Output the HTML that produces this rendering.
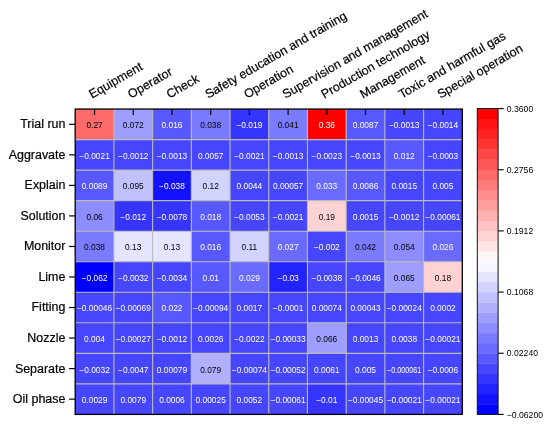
<!DOCTYPE html>
<html><head><meta charset="utf-8"><title>Heatmap</title>
<style>html,body{margin:0;padding:0;background:#fff}svg{display:block}</style></head>
<body>
<svg width="550" height="427" viewBox="0 0 550 427" font-family="'Liberation Sans', Arial, sans-serif">
<rect width="550" height="427" fill="#fff"/>
<rect x="75.20" y="109.05" width="39.01" height="30.83" fill="#ff6a6a"/>
<rect x="113.91" y="109.05" width="39.01" height="30.83" fill="#9e9eff"/>
<rect x="152.62" y="109.05" width="39.01" height="30.83" fill="#5858ff"/>
<rect x="191.33" y="109.05" width="39.01" height="30.83" fill="#7b7bff"/>
<rect x="230.04" y="109.05" width="39.01" height="30.83" fill="#3535ff"/>
<rect x="268.75" y="109.05" width="39.01" height="30.83" fill="#7b7bff"/>
<rect x="307.46" y="109.05" width="39.01" height="30.83" fill="#ff0000"/>
<rect x="346.17" y="109.05" width="39.01" height="30.83" fill="#5858ff"/>
<rect x="384.88" y="109.05" width="39.01" height="30.83" fill="#4646ff"/>
<rect x="423.59" y="109.05" width="39.01" height="30.83" fill="#4646ff"/>
<rect x="75.20" y="139.58" width="39.01" height="30.83" fill="#4646ff"/>
<rect x="113.91" y="139.58" width="39.01" height="30.83" fill="#4646ff"/>
<rect x="152.62" y="139.58" width="39.01" height="30.83" fill="#4646ff"/>
<rect x="191.33" y="139.58" width="39.01" height="30.83" fill="#4646ff"/>
<rect x="230.04" y="139.58" width="39.01" height="30.83" fill="#4646ff"/>
<rect x="268.75" y="139.58" width="39.01" height="30.83" fill="#4646ff"/>
<rect x="307.46" y="139.58" width="39.01" height="30.83" fill="#4646ff"/>
<rect x="346.17" y="139.58" width="39.01" height="30.83" fill="#4646ff"/>
<rect x="384.88" y="139.58" width="39.01" height="30.83" fill="#5858ff"/>
<rect x="423.59" y="139.58" width="39.01" height="30.83" fill="#4646ff"/>
<rect x="75.20" y="170.12" width="39.01" height="30.83" fill="#5858ff"/>
<rect x="113.91" y="170.12" width="39.01" height="30.83" fill="#c1c1ff"/>
<rect x="152.62" y="170.12" width="39.01" height="30.83" fill="#1212ff"/>
<rect x="191.33" y="170.12" width="39.01" height="30.83" fill="#d3d3ff"/>
<rect x="230.04" y="170.12" width="39.01" height="30.83" fill="#4646ff"/>
<rect x="268.75" y="170.12" width="39.01" height="30.83" fill="#4646ff"/>
<rect x="307.46" y="170.12" width="39.01" height="30.83" fill="#6a6aff"/>
<rect x="346.17" y="170.12" width="39.01" height="30.83" fill="#5858ff"/>
<rect x="384.88" y="170.12" width="39.01" height="30.83" fill="#4646ff"/>
<rect x="423.59" y="170.12" width="39.01" height="30.83" fill="#4646ff"/>
<rect x="75.20" y="200.65" width="39.01" height="30.83" fill="#8d8dff"/>
<rect x="113.91" y="200.65" width="39.01" height="30.83" fill="#3535ff"/>
<rect x="152.62" y="200.65" width="39.01" height="30.83" fill="#3535ff"/>
<rect x="191.33" y="200.65" width="39.01" height="30.83" fill="#5858ff"/>
<rect x="230.04" y="200.65" width="39.01" height="30.83" fill="#4646ff"/>
<rect x="268.75" y="200.65" width="39.01" height="30.83" fill="#4646ff"/>
<rect x="307.46" y="200.65" width="39.01" height="30.83" fill="#ffd3d3"/>
<rect x="346.17" y="200.65" width="39.01" height="30.83" fill="#4646ff"/>
<rect x="384.88" y="200.65" width="39.01" height="30.83" fill="#4646ff"/>
<rect x="423.59" y="200.65" width="39.01" height="30.83" fill="#4646ff"/>
<rect x="75.20" y="231.19" width="39.01" height="30.83" fill="#7b7bff"/>
<rect x="113.91" y="231.19" width="39.01" height="30.83" fill="#e5e5ff"/>
<rect x="152.62" y="231.19" width="39.01" height="30.83" fill="#e5e5ff"/>
<rect x="191.33" y="231.19" width="39.01" height="30.83" fill="#5858ff"/>
<rect x="230.04" y="231.19" width="39.01" height="30.83" fill="#d3d3ff"/>
<rect x="268.75" y="231.19" width="39.01" height="30.83" fill="#6a6aff"/>
<rect x="307.46" y="231.19" width="39.01" height="30.83" fill="#4646ff"/>
<rect x="346.17" y="231.19" width="39.01" height="30.83" fill="#7b7bff"/>
<rect x="384.88" y="231.19" width="39.01" height="30.83" fill="#8d8dff"/>
<rect x="423.59" y="231.19" width="39.01" height="30.83" fill="#6a6aff"/>
<rect x="75.20" y="261.72" width="39.01" height="30.83" fill="#0000ff"/>
<rect x="113.91" y="261.72" width="39.01" height="30.83" fill="#4646ff"/>
<rect x="152.62" y="261.72" width="39.01" height="30.83" fill="#4646ff"/>
<rect x="191.33" y="261.72" width="39.01" height="30.83" fill="#5858ff"/>
<rect x="230.04" y="261.72" width="39.01" height="30.83" fill="#6a6aff"/>
<rect x="268.75" y="261.72" width="39.01" height="30.83" fill="#2323ff"/>
<rect x="307.46" y="261.72" width="39.01" height="30.83" fill="#4646ff"/>
<rect x="346.17" y="261.72" width="39.01" height="30.83" fill="#4646ff"/>
<rect x="384.88" y="261.72" width="39.01" height="30.83" fill="#9e9eff"/>
<rect x="423.59" y="261.72" width="39.01" height="30.83" fill="#ffd3d3"/>
<rect x="75.20" y="292.26" width="39.01" height="30.83" fill="#4646ff"/>
<rect x="113.91" y="292.26" width="39.01" height="30.83" fill="#4646ff"/>
<rect x="152.62" y="292.26" width="39.01" height="30.83" fill="#5858ff"/>
<rect x="191.33" y="292.26" width="39.01" height="30.83" fill="#4646ff"/>
<rect x="230.04" y="292.26" width="39.01" height="30.83" fill="#4646ff"/>
<rect x="268.75" y="292.26" width="39.01" height="30.83" fill="#4646ff"/>
<rect x="307.46" y="292.26" width="39.01" height="30.83" fill="#4646ff"/>
<rect x="346.17" y="292.26" width="39.01" height="30.83" fill="#4646ff"/>
<rect x="384.88" y="292.26" width="39.01" height="30.83" fill="#4646ff"/>
<rect x="423.59" y="292.26" width="39.01" height="30.83" fill="#4646ff"/>
<rect x="75.20" y="322.79" width="39.01" height="30.83" fill="#4646ff"/>
<rect x="113.91" y="322.79" width="39.01" height="30.83" fill="#4646ff"/>
<rect x="152.62" y="322.79" width="39.01" height="30.83" fill="#4646ff"/>
<rect x="191.33" y="322.79" width="39.01" height="30.83" fill="#4646ff"/>
<rect x="230.04" y="322.79" width="39.01" height="30.83" fill="#4646ff"/>
<rect x="268.75" y="322.79" width="39.01" height="30.83" fill="#4646ff"/>
<rect x="307.46" y="322.79" width="39.01" height="30.83" fill="#9e9eff"/>
<rect x="346.17" y="322.79" width="39.01" height="30.83" fill="#4646ff"/>
<rect x="384.88" y="322.79" width="39.01" height="30.83" fill="#4646ff"/>
<rect x="423.59" y="322.79" width="39.01" height="30.83" fill="#4646ff"/>
<rect x="75.20" y="353.33" width="39.01" height="30.83" fill="#4646ff"/>
<rect x="113.91" y="353.33" width="39.01" height="30.83" fill="#4646ff"/>
<rect x="152.62" y="353.33" width="39.01" height="30.83" fill="#4646ff"/>
<rect x="191.33" y="353.33" width="39.01" height="30.83" fill="#b0b0ff"/>
<rect x="230.04" y="353.33" width="39.01" height="30.83" fill="#4646ff"/>
<rect x="268.75" y="353.33" width="39.01" height="30.83" fill="#4646ff"/>
<rect x="307.46" y="353.33" width="39.01" height="30.83" fill="#4646ff"/>
<rect x="346.17" y="353.33" width="39.01" height="30.83" fill="#4646ff"/>
<rect x="384.88" y="353.33" width="39.01" height="30.83" fill="#4646ff"/>
<rect x="423.59" y="353.33" width="39.01" height="30.83" fill="#4646ff"/>
<rect x="75.20" y="383.86" width="39.01" height="30.83" fill="#4646ff"/>
<rect x="113.91" y="383.86" width="39.01" height="30.83" fill="#4646ff"/>
<rect x="152.62" y="383.86" width="39.01" height="30.83" fill="#4646ff"/>
<rect x="191.33" y="383.86" width="39.01" height="30.83" fill="#4646ff"/>
<rect x="230.04" y="383.86" width="39.01" height="30.83" fill="#4646ff"/>
<rect x="268.75" y="383.86" width="39.01" height="30.83" fill="#4646ff"/>
<rect x="307.46" y="383.86" width="39.01" height="30.83" fill="#3535ff"/>
<rect x="346.17" y="383.86" width="39.01" height="30.83" fill="#4646ff"/>
<rect x="384.88" y="383.86" width="39.01" height="30.83" fill="#4646ff"/>
<rect x="423.59" y="383.86" width="39.01" height="30.83" fill="#4646ff"/>
<text x="94.56" y="128.22" font-size="8.4" fill="#000" text-anchor="middle">0.27</text>
<text x="133.26" y="128.22" font-size="8.4" fill="#000" text-anchor="middle">0.072</text>
<text x="171.98" y="128.22" font-size="8.4" fill="#fff" text-anchor="middle">0.016</text>
<text x="210.69" y="128.22" font-size="8.4" fill="#000" text-anchor="middle">0.038</text>
<text x="249.39" y="128.22" font-size="8.4" fill="#fff" text-anchor="middle">−0.019</text>
<text x="288.11" y="128.22" font-size="8.4" fill="#000" text-anchor="middle">0.041</text>
<text x="326.81" y="128.22" font-size="8.4" fill="#fff" text-anchor="middle">0.36</text>
<text x="365.52" y="128.22" font-size="8.4" fill="#fff" text-anchor="middle">0.0087</text>
<text x="404.24" y="128.22" font-size="8.4" fill="#fff" text-anchor="middle">−0.0013</text>
<text x="442.94" y="128.22" font-size="8.4" fill="#fff" text-anchor="middle">−0.0014</text>
<text x="94.56" y="158.75" font-size="8.4" fill="#fff" text-anchor="middle">−0.0021</text>
<text x="133.26" y="158.75" font-size="8.4" fill="#fff" text-anchor="middle">−0.0012</text>
<text x="171.98" y="158.75" font-size="8.4" fill="#fff" text-anchor="middle">−0.0013</text>
<text x="210.69" y="158.75" font-size="8.4" fill="#fff" text-anchor="middle">0.0057</text>
<text x="249.39" y="158.75" font-size="8.4" fill="#fff" text-anchor="middle">−0.0021</text>
<text x="288.11" y="158.75" font-size="8.4" fill="#fff" text-anchor="middle">−0.0013</text>
<text x="326.81" y="158.75" font-size="8.4" fill="#fff" text-anchor="middle">−0.0023</text>
<text x="365.52" y="158.75" font-size="8.4" fill="#fff" text-anchor="middle">−0.0013</text>
<text x="404.24" y="158.75" font-size="8.4" fill="#fff" text-anchor="middle">0.012</text>
<text x="442.94" y="158.75" font-size="8.4" fill="#fff" text-anchor="middle">−0.0003</text>
<text x="94.56" y="189.29" font-size="8.4" fill="#fff" text-anchor="middle">0.0089</text>
<text x="133.26" y="189.29" font-size="8.4" fill="#000" text-anchor="middle">0.095</text>
<text x="171.98" y="189.29" font-size="8.4" fill="#fff" text-anchor="middle">−0.038</text>
<text x="210.69" y="189.29" font-size="8.4" fill="#000" text-anchor="middle">0.12</text>
<text x="249.39" y="189.29" font-size="8.4" fill="#fff" text-anchor="middle">0.0044</text>
<text x="288.11" y="189.29" font-size="8.4" fill="#fff" text-anchor="middle">0.00057</text>
<text x="326.81" y="189.29" font-size="8.4" fill="#fff" text-anchor="middle">0.033</text>
<text x="365.52" y="189.29" font-size="8.4" fill="#fff" text-anchor="middle">0.0086</text>
<text x="404.24" y="189.29" font-size="8.4" fill="#fff" text-anchor="middle">0.0015</text>
<text x="442.94" y="189.29" font-size="8.4" fill="#fff" text-anchor="middle">0.005</text>
<text x="94.56" y="219.82" font-size="8.4" fill="#000" text-anchor="middle">0.06</text>
<text x="133.26" y="219.82" font-size="8.4" fill="#fff" text-anchor="middle">−0.012</text>
<text x="171.98" y="219.82" font-size="8.4" fill="#fff" text-anchor="middle">−0.0078</text>
<text x="210.69" y="219.82" font-size="8.4" fill="#fff" text-anchor="middle">0.018</text>
<text x="249.39" y="219.82" font-size="8.4" fill="#fff" text-anchor="middle">−0.0053</text>
<text x="288.11" y="219.82" font-size="8.4" fill="#fff" text-anchor="middle">−0.0021</text>
<text x="326.81" y="219.82" font-size="8.4" fill="#000" text-anchor="middle">0.19</text>
<text x="365.52" y="219.82" font-size="8.4" fill="#fff" text-anchor="middle">0.0015</text>
<text x="404.24" y="219.82" font-size="8.4" fill="#fff" text-anchor="middle">−0.0012</text>
<text x="442.94" y="219.82" font-size="8.4" fill="#fff" text-anchor="middle">−0.00061</text>
<text x="94.56" y="250.36" font-size="8.4" fill="#000" text-anchor="middle">0.038</text>
<text x="133.26" y="250.36" font-size="8.4" fill="#000" text-anchor="middle">0.13</text>
<text x="171.98" y="250.36" font-size="8.4" fill="#000" text-anchor="middle">0.13</text>
<text x="210.69" y="250.36" font-size="8.4" fill="#fff" text-anchor="middle">0.016</text>
<text x="249.39" y="250.36" font-size="8.4" fill="#000" text-anchor="middle">0.11</text>
<text x="288.11" y="250.36" font-size="8.4" fill="#fff" text-anchor="middle">0.027</text>
<text x="326.81" y="250.36" font-size="8.4" fill="#fff" text-anchor="middle">−0.002</text>
<text x="365.52" y="250.36" font-size="8.4" fill="#000" text-anchor="middle">0.042</text>
<text x="404.24" y="250.36" font-size="8.4" fill="#000" text-anchor="middle">0.054</text>
<text x="442.94" y="250.36" font-size="8.4" fill="#fff" text-anchor="middle">0.026</text>
<text x="94.56" y="280.89" font-size="8.4" fill="#fff" text-anchor="middle">−0.062</text>
<text x="133.26" y="280.89" font-size="8.4" fill="#fff" text-anchor="middle">−0.0032</text>
<text x="171.98" y="280.89" font-size="8.4" fill="#fff" text-anchor="middle">−0.0034</text>
<text x="210.69" y="280.89" font-size="8.4" fill="#fff" text-anchor="middle">0.01</text>
<text x="249.39" y="280.89" font-size="8.4" fill="#fff" text-anchor="middle">0.029</text>
<text x="288.11" y="280.89" font-size="8.4" fill="#fff" text-anchor="middle">−0.03</text>
<text x="326.81" y="280.89" font-size="8.4" fill="#fff" text-anchor="middle">−0.0038</text>
<text x="365.52" y="280.89" font-size="8.4" fill="#fff" text-anchor="middle">−0.0046</text>
<text x="404.24" y="280.89" font-size="8.4" fill="#000" text-anchor="middle">0.065</text>
<text x="442.94" y="280.89" font-size="8.4" fill="#000" text-anchor="middle">0.18</text>
<text x="94.56" y="311.43" font-size="8.4" fill="#fff" text-anchor="middle">−0.00046</text>
<text x="133.26" y="311.43" font-size="8.4" fill="#fff" text-anchor="middle">−0.00069</text>
<text x="171.98" y="311.43" font-size="8.4" fill="#fff" text-anchor="middle">0.022</text>
<text x="210.69" y="311.43" font-size="8.4" fill="#fff" text-anchor="middle">−0.00094</text>
<text x="249.39" y="311.43" font-size="8.4" fill="#fff" text-anchor="middle">0.0017</text>
<text x="288.11" y="311.43" font-size="8.4" fill="#fff" text-anchor="middle">−0.0001</text>
<text x="326.81" y="311.43" font-size="8.4" fill="#fff" text-anchor="middle">0.00074</text>
<text x="365.52" y="311.43" font-size="8.4" fill="#fff" text-anchor="middle">0.00043</text>
<text x="404.24" y="311.43" font-size="8.4" fill="#fff" text-anchor="middle">−0.00024</text>
<text x="442.94" y="311.43" font-size="8.4" fill="#fff" text-anchor="middle">0.0002</text>
<text x="94.56" y="341.96" font-size="8.4" fill="#fff" text-anchor="middle">0.004</text>
<text x="133.26" y="341.96" font-size="8.4" fill="#fff" text-anchor="middle">−0.00027</text>
<text x="171.98" y="341.96" font-size="8.4" fill="#fff" text-anchor="middle">−0.0012</text>
<text x="210.69" y="341.96" font-size="8.4" fill="#fff" text-anchor="middle">0.0026</text>
<text x="249.39" y="341.96" font-size="8.4" fill="#fff" text-anchor="middle">−0.0022</text>
<text x="288.11" y="341.96" font-size="8.4" fill="#fff" text-anchor="middle">−0.00033</text>
<text x="326.81" y="341.96" font-size="8.4" fill="#000" text-anchor="middle">0.066</text>
<text x="365.52" y="341.96" font-size="8.4" fill="#fff" text-anchor="middle">0.0013</text>
<text x="404.24" y="341.96" font-size="8.4" fill="#fff" text-anchor="middle">0.0038</text>
<text x="442.94" y="341.96" font-size="8.4" fill="#fff" text-anchor="middle">−0.00021</text>
<text x="94.56" y="372.50" font-size="8.4" fill="#fff" text-anchor="middle">−0.0032</text>
<text x="133.26" y="372.50" font-size="8.4" fill="#fff" text-anchor="middle">−0.0047</text>
<text x="171.98" y="372.50" font-size="8.4" fill="#fff" text-anchor="middle">0.00079</text>
<text x="210.69" y="372.50" font-size="8.4" fill="#000" text-anchor="middle">0.079</text>
<text x="249.39" y="372.50" font-size="8.4" fill="#fff" text-anchor="middle">−0.00074</text>
<text x="288.11" y="372.50" font-size="8.4" fill="#fff" text-anchor="middle">−0.00052</text>
<text x="326.81" y="372.50" font-size="8.4" fill="#fff" text-anchor="middle">0.0061</text>
<text x="365.52" y="372.50" font-size="8.4" fill="#fff" text-anchor="middle">0.005</text>
<text x="404.24" y="372.50" font-size="8.4" fill="#fff" text-anchor="middle" textLength="34.3" lengthAdjust="spacingAndGlyphs">−0.000061</text>
<text x="442.94" y="372.50" font-size="8.4" fill="#fff" text-anchor="middle">−0.0006</text>
<text x="94.56" y="403.03" font-size="8.4" fill="#fff" text-anchor="middle">0.0029</text>
<text x="133.26" y="403.03" font-size="8.4" fill="#fff" text-anchor="middle">0.0079</text>
<text x="171.98" y="403.03" font-size="8.4" fill="#fff" text-anchor="middle">0.0006</text>
<text x="210.69" y="403.03" font-size="8.4" fill="#fff" text-anchor="middle">0.00025</text>
<text x="249.39" y="403.03" font-size="8.4" fill="#fff" text-anchor="middle">0.0052</text>
<text x="288.11" y="403.03" font-size="8.4" fill="#fff" text-anchor="middle">−0.00061</text>
<text x="326.81" y="403.03" font-size="8.4" fill="#fff" text-anchor="middle">−0.01</text>
<text x="365.52" y="403.03" font-size="8.4" fill="#fff" text-anchor="middle">−0.00045</text>
<text x="404.24" y="403.03" font-size="8.4" fill="#fff" text-anchor="middle">−0.00021</text>
<text x="442.94" y="403.03" font-size="8.4" fill="#fff" text-anchor="middle">−0.00021</text>
<line x1="113.91" y1="109.05" x2="113.91" y2="414.4" stroke="#bbbbbb" stroke-width="1.1"/>
<line x1="75.2" y1="139.58" x2="462.3" y2="139.58" stroke="#bbbbbb" stroke-width="1.1"/>
<line x1="152.62" y1="109.05" x2="152.62" y2="414.4" stroke="#bbbbbb" stroke-width="1.1"/>
<line x1="75.2" y1="170.12" x2="462.3" y2="170.12" stroke="#bbbbbb" stroke-width="1.1"/>
<line x1="191.33" y1="109.05" x2="191.33" y2="414.4" stroke="#bbbbbb" stroke-width="1.1"/>
<line x1="75.2" y1="200.65" x2="462.3" y2="200.65" stroke="#bbbbbb" stroke-width="1.1"/>
<line x1="230.04" y1="109.05" x2="230.04" y2="414.4" stroke="#bbbbbb" stroke-width="1.1"/>
<line x1="75.2" y1="231.19" x2="462.3" y2="231.19" stroke="#bbbbbb" stroke-width="1.1"/>
<line x1="268.75" y1="109.05" x2="268.75" y2="414.4" stroke="#bbbbbb" stroke-width="1.1"/>
<line x1="75.2" y1="261.72" x2="462.3" y2="261.72" stroke="#bbbbbb" stroke-width="1.1"/>
<line x1="307.46" y1="109.05" x2="307.46" y2="414.4" stroke="#bbbbbb" stroke-width="1.1"/>
<line x1="75.2" y1="292.26" x2="462.3" y2="292.26" stroke="#bbbbbb" stroke-width="1.1"/>
<line x1="346.17" y1="109.05" x2="346.17" y2="414.4" stroke="#bbbbbb" stroke-width="1.1"/>
<line x1="75.2" y1="322.79" x2="462.3" y2="322.79" stroke="#bbbbbb" stroke-width="1.1"/>
<line x1="384.88" y1="109.05" x2="384.88" y2="414.4" stroke="#bbbbbb" stroke-width="1.1"/>
<line x1="75.2" y1="353.33" x2="462.3" y2="353.33" stroke="#bbbbbb" stroke-width="1.1"/>
<line x1="423.59" y1="109.05" x2="423.59" y2="414.4" stroke="#bbbbbb" stroke-width="1.1"/>
<line x1="75.2" y1="383.86" x2="462.3" y2="383.86" stroke="#bbbbbb" stroke-width="1.1"/>
<rect x="75.2" y="109.05" width="387.10" height="305.35" fill="none" stroke="#000" stroke-width="1.3"/>
<line x1="94.56" y1="109.05" x2="94.56" y2="114.95" stroke="#000" stroke-width="1.2"/>
<text transform="translate(92.06,98.8) rotate(-30)" font-size="12.45" fill="#000" stroke="#000" stroke-width="0.2">Equipment</text>
<line x1="133.26" y1="109.05" x2="133.26" y2="114.95" stroke="#000" stroke-width="1.2"/>
<text transform="translate(130.76,98.8) rotate(-30)" font-size="12.45" fill="#000" stroke="#000" stroke-width="0.2">Operator</text>
<line x1="171.98" y1="109.05" x2="171.98" y2="114.95" stroke="#000" stroke-width="1.2"/>
<text transform="translate(169.48,98.8) rotate(-30)" font-size="12.45" fill="#000" stroke="#000" stroke-width="0.2">Check</text>
<line x1="210.69" y1="109.05" x2="210.69" y2="114.95" stroke="#000" stroke-width="1.2"/>
<text transform="translate(208.19,98.8) rotate(-30)" font-size="12.45" fill="#000" stroke="#000" stroke-width="0.2">Safety education and training</text>
<line x1="249.39" y1="109.05" x2="249.39" y2="114.95" stroke="#000" stroke-width="1.2"/>
<text transform="translate(246.89,98.8) rotate(-30)" font-size="12.45" fill="#000" stroke="#000" stroke-width="0.2">Operation</text>
<line x1="288.11" y1="109.05" x2="288.11" y2="114.95" stroke="#000" stroke-width="1.2"/>
<text transform="translate(285.61,98.8) rotate(-30)" font-size="12.45" fill="#000" stroke="#000" stroke-width="0.2">Supervision and management</text>
<line x1="326.81" y1="109.05" x2="326.81" y2="114.95" stroke="#000" stroke-width="1.2"/>
<text transform="translate(324.31,98.8) rotate(-30)" font-size="12.45" fill="#000" stroke="#000" stroke-width="0.2">Production technology</text>
<line x1="365.52" y1="109.05" x2="365.52" y2="114.95" stroke="#000" stroke-width="1.2"/>
<text transform="translate(363.02,98.8) rotate(-30)" font-size="12.45" fill="#000" stroke="#000" stroke-width="0.2">Management</text>
<line x1="404.24" y1="109.05" x2="404.24" y2="114.95" stroke="#000" stroke-width="1.2"/>
<text transform="translate(401.74,98.8) rotate(-30)" font-size="12.45" fill="#000" stroke="#000" stroke-width="0.2">Toxic and harmful gas</text>
<line x1="442.94" y1="109.05" x2="442.94" y2="114.95" stroke="#000" stroke-width="1.2"/>
<text transform="translate(440.44,98.8) rotate(-30)" font-size="12.45" fill="#000" stroke="#000" stroke-width="0.2">Special operation</text>
<line x1="69.10" y1="124.32" x2="75.2" y2="124.32" stroke="#000" stroke-width="1.2"/>
<text x="65.4" y="128.27" font-size="12.45" fill="#000" stroke="#000" stroke-width="0.2" text-anchor="end">Trial run</text>
<line x1="69.10" y1="154.85" x2="75.2" y2="154.85" stroke="#000" stroke-width="1.2"/>
<text x="65.4" y="158.80" font-size="12.45" fill="#000" stroke="#000" stroke-width="0.2" text-anchor="end">Aggravate</text>
<line x1="69.10" y1="185.39" x2="75.2" y2="185.39" stroke="#000" stroke-width="1.2"/>
<text x="65.4" y="189.34" font-size="12.45" fill="#000" stroke="#000" stroke-width="0.2" text-anchor="end">Explain</text>
<line x1="69.10" y1="215.92" x2="75.2" y2="215.92" stroke="#000" stroke-width="1.2"/>
<text x="65.4" y="219.87" font-size="12.45" fill="#000" stroke="#000" stroke-width="0.2" text-anchor="end">Solution</text>
<line x1="69.10" y1="246.46" x2="75.2" y2="246.46" stroke="#000" stroke-width="1.2"/>
<text x="65.4" y="250.41" font-size="12.45" fill="#000" stroke="#000" stroke-width="0.2" text-anchor="end">Monitor</text>
<line x1="69.10" y1="276.99" x2="75.2" y2="276.99" stroke="#000" stroke-width="1.2"/>
<text x="65.4" y="280.94" font-size="12.45" fill="#000" stroke="#000" stroke-width="0.2" text-anchor="end">Lime</text>
<line x1="69.10" y1="307.53" x2="75.2" y2="307.53" stroke="#000" stroke-width="1.2"/>
<text x="65.4" y="311.48" font-size="12.45" fill="#000" stroke="#000" stroke-width="0.2" text-anchor="end">Fitting</text>
<line x1="69.10" y1="338.06" x2="75.2" y2="338.06" stroke="#000" stroke-width="1.2"/>
<text x="65.4" y="342.01" font-size="12.45" fill="#000" stroke="#000" stroke-width="0.2" text-anchor="end">Nozzle</text>
<line x1="69.10" y1="368.60" x2="75.2" y2="368.60" stroke="#000" stroke-width="1.2"/>
<text x="65.4" y="372.55" font-size="12.45" fill="#000" stroke="#000" stroke-width="0.2" text-anchor="end">Separate</text>
<line x1="69.10" y1="399.13" x2="75.2" y2="399.13" stroke="#000" stroke-width="1.2"/>
<text x="65.4" y="403.08" font-size="12.45" fill="#000" stroke="#000" stroke-width="0.2" text-anchor="end">Oil phase</text>
<rect x="477.3" y="404.21" width="20.80" height="10.49" fill="#0000ff"/>
<rect x="477.3" y="394.01" width="20.80" height="10.49" fill="#1212ff"/>
<rect x="477.3" y="383.82" width="20.80" height="10.49" fill="#2323ff"/>
<rect x="477.3" y="373.63" width="20.80" height="10.49" fill="#3535ff"/>
<rect x="477.3" y="363.43" width="20.80" height="10.49" fill="#4646ff"/>
<rect x="477.3" y="353.24" width="20.80" height="10.49" fill="#5858ff"/>
<rect x="477.3" y="343.05" width="20.80" height="10.49" fill="#6a6aff"/>
<rect x="477.3" y="332.85" width="20.80" height="10.49" fill="#7b7bff"/>
<rect x="477.3" y="322.66" width="20.80" height="10.49" fill="#8d8dff"/>
<rect x="477.3" y="312.47" width="20.80" height="10.49" fill="#9e9eff"/>
<rect x="477.3" y="302.27" width="20.80" height="10.49" fill="#b0b0ff"/>
<rect x="477.3" y="292.08" width="20.80" height="10.49" fill="#c1c1ff"/>
<rect x="477.3" y="281.89" width="20.80" height="10.49" fill="#d3d3ff"/>
<rect x="477.3" y="271.69" width="20.80" height="10.49" fill="#e5e5ff"/>
<rect x="477.3" y="261.50" width="20.80" height="10.49" fill="#f6f6ff"/>
<rect x="477.3" y="251.31" width="20.80" height="10.49" fill="#fff6f6"/>
<rect x="477.3" y="241.11" width="20.80" height="10.49" fill="#ffe5e5"/>
<rect x="477.3" y="230.92" width="20.80" height="10.49" fill="#ffd3d3"/>
<rect x="477.3" y="220.73" width="20.80" height="10.49" fill="#ffc1c1"/>
<rect x="477.3" y="210.53" width="20.80" height="10.49" fill="#ffb0b0"/>
<rect x="477.3" y="200.34" width="20.80" height="10.49" fill="#ff9e9e"/>
<rect x="477.3" y="190.15" width="20.80" height="10.49" fill="#ff8d8d"/>
<rect x="477.3" y="179.95" width="20.80" height="10.49" fill="#ff7b7b"/>
<rect x="477.3" y="169.76" width="20.80" height="10.49" fill="#ff6a6a"/>
<rect x="477.3" y="159.57" width="20.80" height="10.49" fill="#ff5858"/>
<rect x="477.3" y="149.37" width="20.80" height="10.49" fill="#ff4646"/>
<rect x="477.3" y="139.18" width="20.80" height="10.49" fill="#ff3535"/>
<rect x="477.3" y="128.99" width="20.80" height="10.49" fill="#ff2323"/>
<rect x="477.3" y="118.79" width="20.80" height="10.49" fill="#ff1212"/>
<rect x="477.3" y="108.60" width="20.80" height="10.49" fill="#ff0000"/>
<rect x="477.3" y="108.6" width="20.80" height="305.80" fill="none" stroke="#111" stroke-width="1.0"/>
<line x1="498.1" y1="108.60" x2="503.70" y2="108.60" stroke="#000" stroke-width="1.1"/>
<text x="506.8" y="111.75" font-size="8.65" fill="#000">0.3600</text>
<line x1="498.1" y1="169.76" x2="503.70" y2="169.76" stroke="#000" stroke-width="1.1"/>
<text x="506.8" y="172.91" font-size="8.65" fill="#000">0.2756</text>
<line x1="498.1" y1="230.92" x2="503.70" y2="230.92" stroke="#000" stroke-width="1.1"/>
<text x="506.8" y="234.07" font-size="8.65" fill="#000">0.1912</text>
<line x1="498.1" y1="292.08" x2="503.70" y2="292.08" stroke="#000" stroke-width="1.1"/>
<text x="506.8" y="295.23" font-size="8.65" fill="#000">0.1068</text>
<line x1="498.1" y1="353.24" x2="503.70" y2="353.24" stroke="#000" stroke-width="1.1"/>
<text x="506.8" y="356.39" font-size="8.65" fill="#000">0.02240</text>
<line x1="498.1" y1="414.40" x2="503.70" y2="414.40" stroke="#000" stroke-width="1.1"/>
<text x="506.8" y="417.55" font-size="8.65" fill="#000">−0.06200</text>
</svg>
</body></html>
